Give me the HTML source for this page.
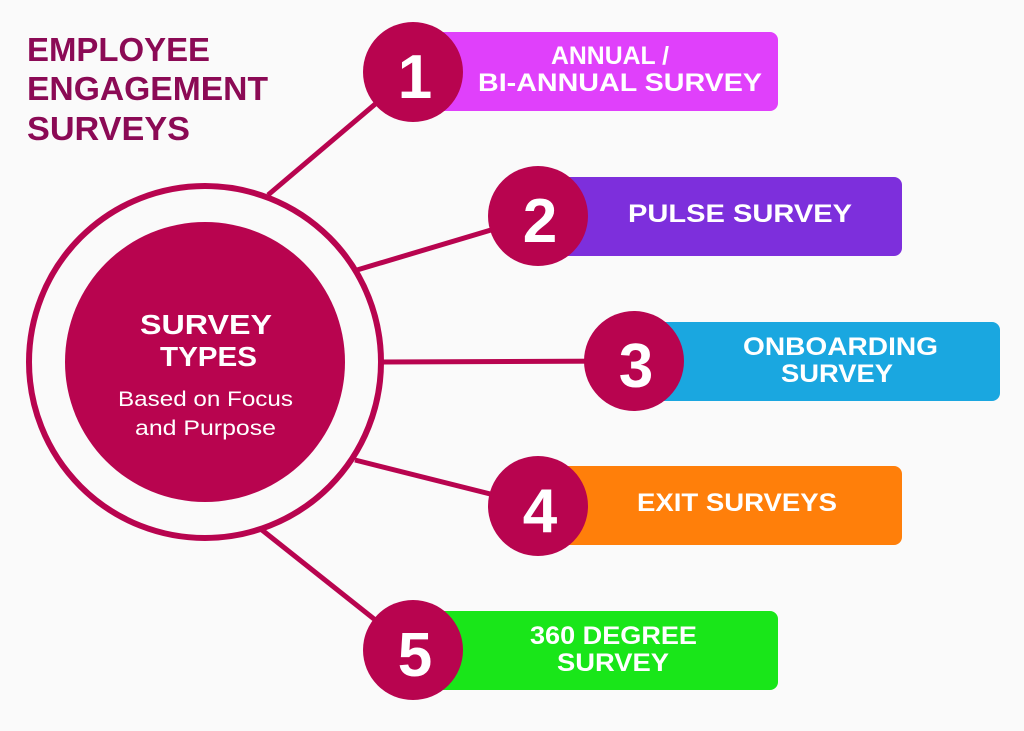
<!DOCTYPE html>
<html><head><style>
body{margin:0;width:1024px;height:726px;background:#fafafa;overflow:hidden;font-family:"Liberation Sans",sans-serif}
</style></head><body>
<svg width="1024" height="726" viewBox="0 0 1024 726" xmlns="http://www.w3.org/2000/svg">
<rect width="1024" height="726" fill="#fafafa"/>
<g font-family="Liberation Sans, sans-serif" font-weight="bold" fill="#8b0a55" font-size="33" lengthAdjust="spacingAndGlyphs">
<text x="27" y="61" textLength="183" lengthAdjust="spacingAndGlyphs">EMPLOYEE</text>
<text x="27" y="100" textLength="241" lengthAdjust="spacingAndGlyphs">ENGAGEMENT</text>
<text x="27" y="140" textLength="163" lengthAdjust="spacingAndGlyphs">SURVEYS</text>
</g>
<g stroke="#b8044f" stroke-width="5" fill="none">
<line x1="268" y1="195" x2="413" y2="72"/>
<line x1="357" y1="270" x2="538" y2="216"/>
<line x1="383" y1="362" x2="634" y2="361"/>
<line x1="355" y1="460" x2="538" y2="506"/>
<line x1="262" y1="530" x2="413" y2="650"/>
<circle cx="205" cy="362" r="176" stroke-width="6"/>
</g>
<circle cx="205" cy="362" r="140" fill="#b8044f"/>
<g fill="#fff" font-family="Liberation Sans, sans-serif">
<text x="140" y="334" font-size="28" font-weight="bold" textLength="132" lengthAdjust="spacingAndGlyphs">SURVEY</text>
<text x="160" y="366" font-size="28" font-weight="bold" textLength="97" lengthAdjust="spacingAndGlyphs">TYPES</text>
<text x="118" y="406" font-size="21" textLength="175" lengthAdjust="spacingAndGlyphs">Based on Focus</text>
<text x="135" y="435" font-size="21" textLength="141" lengthAdjust="spacingAndGlyphs">and Purpose</text>
</g>
<rect x="430" y="32" width="348" height="79" rx="8" fill="#e040fb"/>
<rect x="555" y="177" width="347" height="79" rx="8" fill="#7d2fdc"/>
<rect x="650" y="322" width="350" height="79" rx="8" fill="#1aa7e0"/>
<rect x="555" y="466" width="347" height="79" rx="8" fill="#ff7f0a"/>
<rect x="430" y="611" width="348" height="79" rx="8" fill="#19e619"/>
<g fill="#b8044f">
<circle cx="413" cy="72" r="50"/>
<circle cx="538" cy="216" r="50"/>
<circle cx="634" cy="361" r="50"/>
<circle cx="538" cy="506" r="50"/>
<circle cx="413" cy="650" r="50"/>
</g>
<g fill="#fff" font-family="Liberation Sans, sans-serif" font-weight="bold" text-anchor="middle" font-size="62">
<text x="415" y="98">1</text>
<text x="540" y="242">2</text>
<text x="636" y="387">3</text>
<text x="540" y="532">4</text>
<text x="415" y="676">5</text>
</g>
<g fill="#fff" font-family="Liberation Sans, sans-serif" font-weight="bold" font-size="25">
<text x="551" y="64" textLength="118" lengthAdjust="spacingAndGlyphs">ANNUAL /</text>
<text x="478" y="91" textLength="284" lengthAdjust="spacingAndGlyphs">BI-ANNUAL SURVEY</text>
<text x="628" y="222" textLength="224" lengthAdjust="spacingAndGlyphs">PULSE SURVEY</text>
<text x="743" y="355" textLength="195" lengthAdjust="spacingAndGlyphs">ONBOARDING</text>
<text x="781" y="382" textLength="112" lengthAdjust="spacingAndGlyphs">SURVEY</text>
<text x="637" y="511" textLength="200" lengthAdjust="spacingAndGlyphs">EXIT SURVEYS</text>
<text x="530" y="644" textLength="167" lengthAdjust="spacingAndGlyphs">360 DEGREE</text>
<text x="557" y="671" textLength="112" lengthAdjust="spacingAndGlyphs">SURVEY</text>
</g>
</svg>
</body></html>
